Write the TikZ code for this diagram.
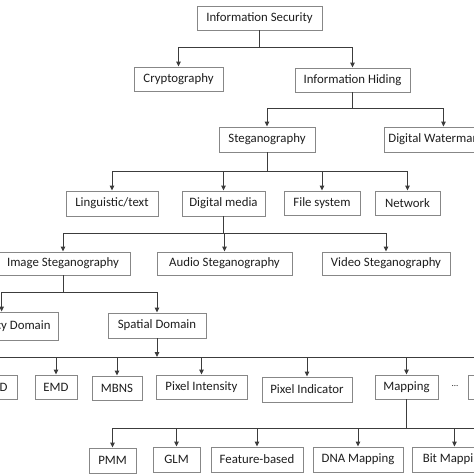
\documentclass[tikz,border=0pt]{standalone}
\usepackage{fontspec}
\setmainfont{Carlito}
\usetikzlibrary{positioning,calc}
\usetikzlibrary{arrows.meta}
\definecolor{BoxGray}{RGB}{135,135,135}
\definecolor{LinkGray}{RGB}{60,60,60}
\definecolor{TextDark}{RGB}{30,30,30}
\tikzset{
	box/.style={draw=BoxGray,line width=0.9pt,fill=white,inner sep=0pt,minimum height=24,
		text=TextDark,font=\fontsize{12.8}{14}\selectfont},
	link/.style={draw=LinkGray,line width=0.9pt},
	arr/.style={link,-{Triangle[length=5pt,width=4.5pt]}},
}

\begin{document}
\begin{tikzpicture}[x=1pt,y=-1pt]
			\useasboundingbox (0,0) rectangle (474,474);
			\clip (0,0) rectangle (474,474);
			% boxes, top to bottom
			\node[box,minimum width=125] (sec) at (259.5,18) {Information Security};
			\node[box,minimum width=89] (crypto) at (178.5,79) {Cryptography};
			\node[box,minimum width=115] (hide) at (352.5,80) {Information Hiding};
			\node[box,minimum width=96,minimum height=25] (steg) at (267,139.5) {Steganography};
			\node[box,minimum width=118,minimum height=25,anchor=west] (wm) at (384,139.5) {Digital Watermarking};
			\node[box,minimum width=92,minimum height=25] (ling) at (112,203.5) {Linguistic/text};
			\node[box,minimum width=83,minimum height=25] (media) at (223.5,203.5) {Digital media};
			\node[box,minimum width=76] (files) at (322,203) {File system};
			\node[box,minimum width=65] (net) at (407.5,203) {Network};
			\node[box,minimum width=134,minimum height=23] (imgst) at (63,263.5) {Image Steganography};
			\node[box,minimum width=135,minimum height=23] (audst) at (224.5,263.5) {Audio Steganography};
			\node[box,minimum width=128,minimum height=23] (vidst) at (386,263.5) {Video Steganography};
			\node[box,inner xsep=8pt,minimum height=28,anchor=east] (freq) at (59,326) {Frequency Domain};
			\node[box,minimum width=98,minimum height=25] (spatial) at (157,325.5) {Spatial Domain};
			\node[box,inner xsep=10pt,anchor=east] (pvd) at (18,387) {PVD};
			\node[box,minimum width=42] (emd) at (56,387) {EMD};
			\node[box,minimum width=50] (mbns) at (117,388) {MBNS};
			\node[box,minimum width=91] (pint) at (201.5,387) {Pixel Intensity};
			\node[box,minimum width=90,minimum height=25] (pind) at (307,389.5) {Pixel Indicator};
			\node[box,minimum width=63] (mapping) at (406.5,387) {Mapping};
			\node[text=TextDark,font=\small] (dots) at (455,386) {...};
			\node[box,minimum width=40,anchor=west] (more) at (468,387) {};
			\node[box,minimum width=47,minimum height=25] (pmm) at (112.5,460.5) {PMM};
			\node[box,minimum width=47,minimum height=25] (glm) at (176.5,459.5) {GLM};
			\node[box,minimum width=92,minimum height=25] (feat) at (257,459.5) {Feature-based};
			\node[box,minimum width=90,minimum height=25] (dna) at (358,459.5) {DNA Mapping};
			\node[box,minimum width=84,minimum height=25,anchor=west] (bitmap) at (412,459.5) {Bit Mapping};
			% junctions of the tree
			\coordinate (j1) at (259.5,47);
			\coordinate (j2) at (352.5,108);
			\coordinate (j3) at (267,171);
			\coordinate (j4) at (223.5,233);
			\coordinate (j5) at (63,292);
			\coordinate (j6) at (157,357);
			\coordinate (j7) at (406.5,428);
			\coordinate (j7e) at (490,428);
			\draw[link] (sec) -- (j1);
			\draw[arr] (j1) -| (crypto);
			\draw[arr] (j1) -| (hide);
			\draw[link] (hide) -- (j2);
			\draw[arr] (j2) -| (steg);
			\draw[arr] (j2) -| (wm);
			\draw[link] (steg) -- (j3);
			\draw[arr] (j3) -| (ling);
			\draw[arr] (j3) -| (media);
			\draw[arr] (j3) -| (files);
			\draw[arr] (j3) -| (net);
			\draw[link] (media) -- (j4);
			\draw[arr] (j4) -| (imgst);
			\draw[arr] (j4) -| (audst);
			\draw[arr] (j4) -| (vidst);
			\draw[link] (imgst) -- (j5);
			\draw[arr] (j5) -| (freq);
			\draw[arr] (j5) -| (spatial);
			\draw[arr] (spatial) -- (j6);
			\draw[arr] (j6) -| (pvd);
			\draw[arr] (j6) -| (emd);
			\draw[arr] (j6) -| (mbns);
			\draw[arr] (j6) -| (pint);
			\draw[arr] (j6) -| (pind);
			\draw[arr] (j6) -| (mapping);
			\draw[arr] (j6) -| (more);
			\draw[link] (mapping) -- (j7);
			\draw[arr] (j7) -| (pmm);
			\draw[arr] (j7) -| (glm);
			\draw[arr] (j7) -| (feat);
			\draw[arr] (j7) -| (dna);
			\draw[arr] (j7) -| (bitmap);
			\draw[link] (j7) -- (j7e);
		\end{tikzpicture}
\end{document}
